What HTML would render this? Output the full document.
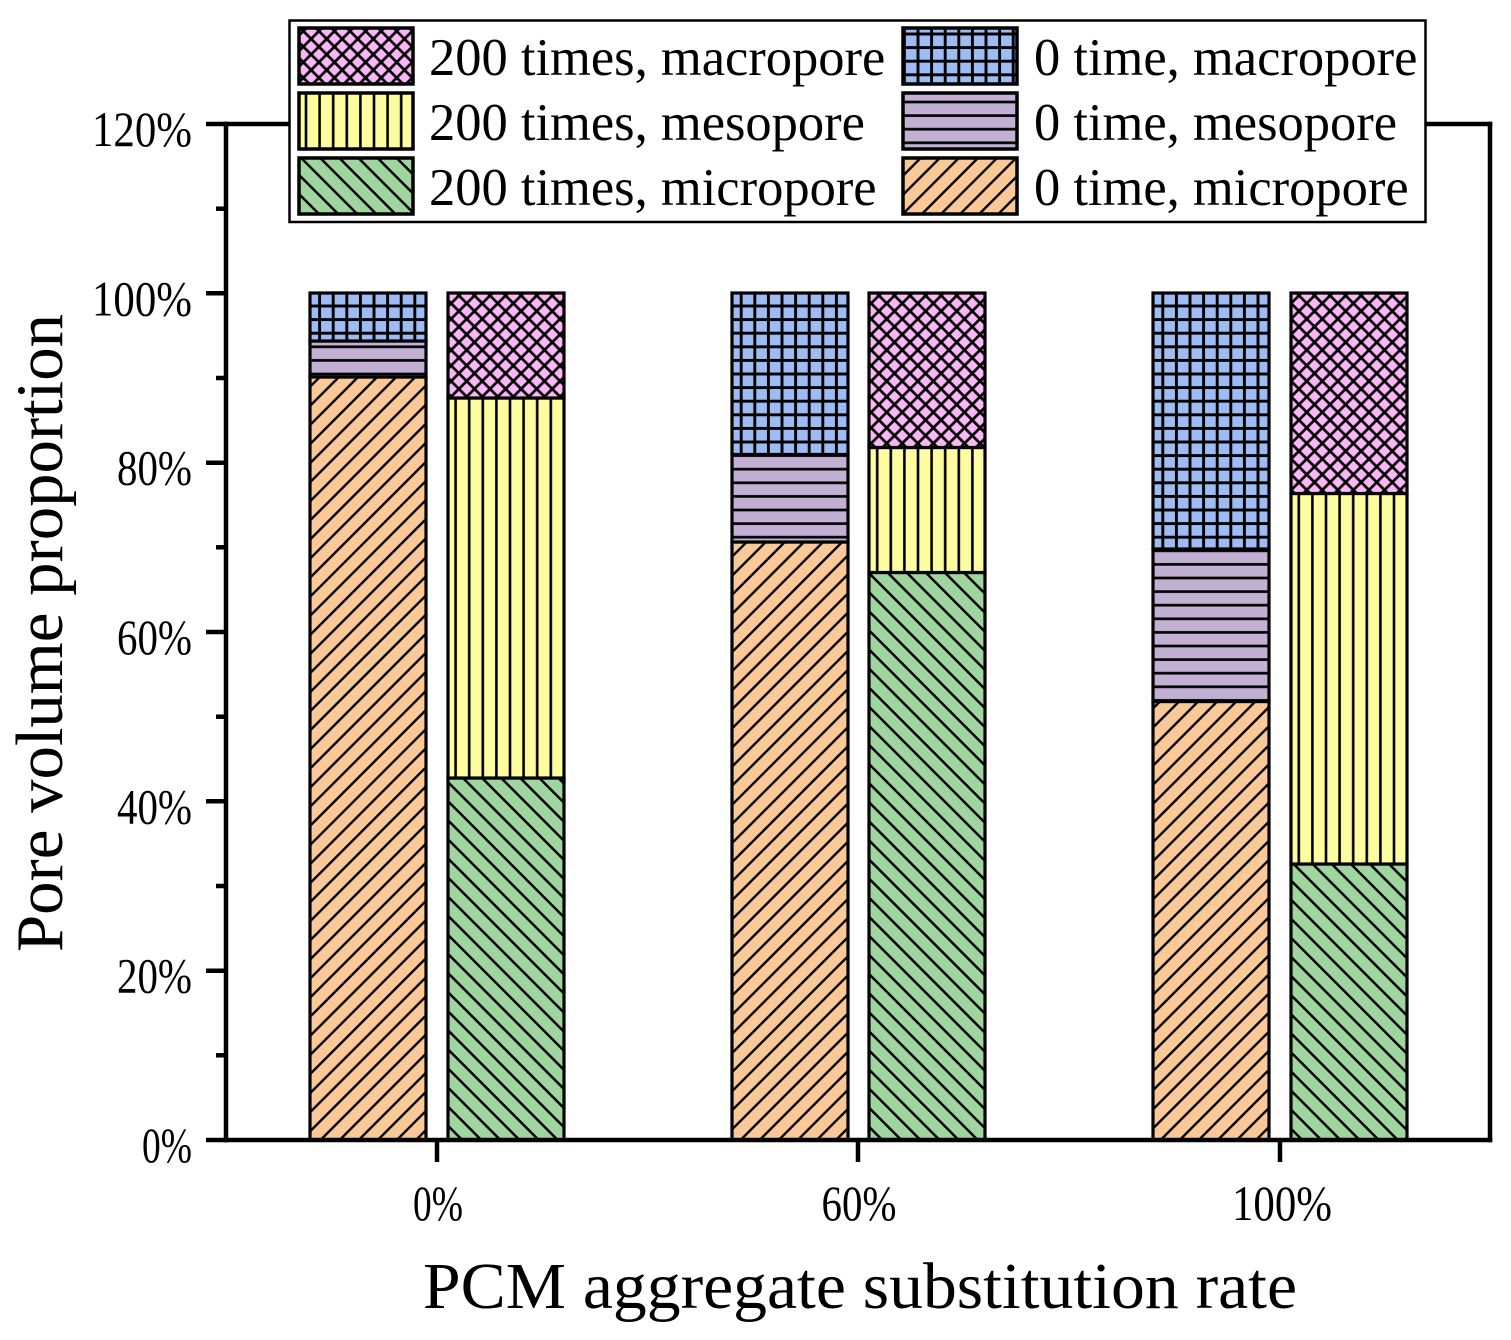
<!DOCTYPE html>
<html>
<head>
<meta charset="utf-8">
<style>
  html, body { margin: 0; padding: 0; background: #ffffff; }
  svg { display: block; }
  text { font-family: "Liberation Serif", "Times New Roman", serif; fill: #000; }
</style>
</head>
<body>
<svg width="1511" height="1340" viewBox="0 0 1511 1340" xmlns="http://www.w3.org/2000/svg">
  <defs>
    <pattern id="pOr" width="13.5" height="13.5" patternUnits="userSpaceOnUse" patternTransform="rotate(45)">
      <rect width="13.5" height="13.5" fill="#FBC997"/>
      <line x1="6.75" y1="-1" x2="6.75" y2="14.5" stroke="#000" stroke-width="2.4"/>
    </pattern>
    <pattern id="pGr" width="13.5" height="13.5" patternUnits="userSpaceOnUse" patternTransform="rotate(-45)">
      <rect width="13.5" height="13.5" fill="#9ED69E"/>
      <line x1="6.75" y1="-1" x2="6.75" y2="14.5" stroke="#000" stroke-width="2.5"/>
    </pattern>
    <pattern id="pLa" width="13.6" height="13.6" patternUnits="userSpaceOnUse">
      <rect width="13.6" height="13.6" fill="#C2B0D4"/>
      <line x1="-1" y1="6.8" x2="14.6" y2="6.8" stroke="#000" stroke-width="2.6"/>
    </pattern>
    <pattern id="pYe" width="13.6" height="13.6" patternUnits="userSpaceOnUse">
      <rect width="13.6" height="13.6" fill="#FEFEA0"/>
      <line x1="6.8" y1="-1" x2="6.8" y2="14.6" stroke="#000" stroke-width="2.6"/>
    </pattern>
    <pattern id="pBl" width="13.6" height="13.6" patternUnits="userSpaceOnUse">
      <rect width="13.6" height="13.6" fill="#9DBCF4"/>
      <line x1="6.8" y1="-1" x2="6.8" y2="14.6" stroke="#000" stroke-width="2.9"/>
      <line x1="-1" y1="6.8" x2="14.6" y2="6.8" stroke="#000" stroke-width="2.9"/>
    </pattern>
    <pattern id="pPi" width="11" height="11" patternUnits="userSpaceOnUse" patternTransform="rotate(45)">
      <rect width="11" height="11" fill="#FAB6F6"/>
      <line x1="5.5" y1="-1" x2="5.5" y2="12" stroke="#000" stroke-width="2.7"/>
      <line x1="-1" y1="5.5" x2="12" y2="5.5" stroke="#000" stroke-width="2.7"/>
    </pattern>
  </defs>

  <!-- Bars -->
  <g stroke="#000" stroke-width="3.2">
    <rect x="310" y="377" width="116" height="763" fill="url(#pOr)"/>
    <rect x="310" y="341" width="116" height="36" fill="url(#pLa)"/>
    <rect x="310" y="293" width="116" height="48" fill="url(#pBl)"/>

    <rect x="448" y="778" width="116" height="362" fill="url(#pGr)"/>
    <rect x="448" y="398" width="116" height="380" fill="url(#pYe)"/>
    <rect x="448" y="293" width="116" height="105" fill="url(#pPi)"/>

    <rect x="732" y="542" width="116" height="598" fill="url(#pOr)"/>
    <rect x="732" y="454.5" width="116" height="87.5" fill="url(#pLa)"/>
    <rect x="732" y="293" width="116" height="161.5" fill="url(#pBl)"/>

    <rect x="869" y="572.5" width="116" height="567.5" fill="url(#pGr)"/>
    <rect x="869" y="447.5" width="116" height="125" fill="url(#pYe)"/>
    <rect x="869" y="293" width="116" height="154.5" fill="url(#pPi)"/>

    <rect x="1153" y="701.5" width="116" height="438.5" fill="url(#pOr)"/>
    <rect x="1153" y="549" width="116" height="152.5" fill="url(#pLa)"/>
    <rect x="1153" y="293" width="116" height="256" fill="url(#pBl)"/>

    <rect x="1291" y="864" width="116" height="276" fill="url(#pGr)"/>
    <rect x="1291" y="493.5" width="116" height="370.5" fill="url(#pYe)"/>
    <rect x="1291" y="293" width="116" height="200.5" fill="url(#pPi)"/>
  </g>

  <!-- Axes frame -->
  <g stroke="#000" stroke-width="4.5" fill="none" stroke-linecap="square">
    <line x1="226" y1="124" x2="1490" y2="124"/>
    <line x1="1490" y1="124" x2="1490" y2="1140"/>
    <line x1="226" y1="124" x2="226" y2="1140"/>
    <line x1="226" y1="1140" x2="1490" y2="1140"/>
  </g>

  <!-- Y ticks -->
  <g stroke="#000" stroke-width="4.5">
    <line x1="206" y1="1140" x2="226" y2="1140"/>
    <line x1="206" y1="970.7" x2="226" y2="970.7"/>
    <line x1="206" y1="801.3" x2="226" y2="801.3"/>
    <line x1="206" y1="632" x2="226" y2="632"/>
    <line x1="206" y1="462.7" x2="226" y2="462.7"/>
    <line x1="206" y1="293.3" x2="226" y2="293.3"/>
    <line x1="206" y1="124" x2="226" y2="124"/>

    <line x1="216" y1="1055.3" x2="226" y2="1055.3"/>
    <line x1="216" y1="886" x2="226" y2="886"/>
    <line x1="216" y1="716.7" x2="226" y2="716.7"/>
    <line x1="216" y1="547.3" x2="226" y2="547.3"/>
    <line x1="216" y1="378" x2="226" y2="378"/>
    <line x1="216" y1="208.7" x2="226" y2="208.7"/>
  </g>

  <!-- X ticks -->
  <g stroke="#000" stroke-width="4.5">
    <line x1="437" y1="1140" x2="437" y2="1162"/>
    <line x1="858" y1="1140" x2="858" y2="1162"/>
    <line x1="1280" y1="1140" x2="1280" y2="1162"/>
  </g>

  <!-- Y tick labels -->
  <g font-size="50" text-anchor="end">
    <text x="192" y="1162" textLength="50" lengthAdjust="spacingAndGlyphs">0%</text>
    <text x="192" y="992.7" textLength="75" lengthAdjust="spacingAndGlyphs">20%</text>
    <text x="192" y="823.3" textLength="75" lengthAdjust="spacingAndGlyphs">40%</text>
    <text x="192" y="654" textLength="75" lengthAdjust="spacingAndGlyphs">60%</text>
    <text x="192" y="484.7" textLength="75" lengthAdjust="spacingAndGlyphs">80%</text>
    <text x="192" y="315.3" textLength="100" lengthAdjust="spacingAndGlyphs">100%</text>
    <text x="192" y="146" textLength="100" lengthAdjust="spacingAndGlyphs">120%</text>
  </g>

  <!-- X tick labels -->
  <g font-size="50" text-anchor="middle">
    <text x="438" y="1220" textLength="50" lengthAdjust="spacingAndGlyphs">0%</text>
    <text x="859" y="1220" textLength="75" lengthAdjust="spacingAndGlyphs">60%</text>
    <text x="1282" y="1220" textLength="100" lengthAdjust="spacingAndGlyphs">100%</text>
  </g>

  <!-- Axis titles -->
  <text x="860" y="1308" font-size="66" text-anchor="middle" textLength="874" lengthAdjust="spacingAndGlyphs">PCM aggregate substitution rate</text>
  <text transform="translate(62,633) rotate(-90)" font-size="67" text-anchor="middle" textLength="638" lengthAdjust="spacingAndGlyphs">Pore volume proportion</text>

  <!-- Legend -->
  <rect x="289.5" y="20.5" width="1136" height="201.5" fill="#fff" stroke="#000" stroke-width="2.5"/>
  <g stroke="#000" stroke-width="3.5">
    <rect x="299" y="28" width="114" height="56" fill="url(#pPi)"/>
    <rect x="299" y="93" width="114" height="56" fill="url(#pYe)"/>
    <rect x="299" y="158" width="114" height="56" fill="url(#pGr)"/>
    <rect x="903" y="28" width="114" height="56" fill="url(#pBl)"/>
    <rect x="903" y="93" width="114" height="56" fill="url(#pLa)"/>
    <rect x="903" y="158" width="114" height="56" fill="url(#pOr)"/>
  </g>
  <g font-size="52.5">
    <text x="429" y="75">200 times, macropore</text>
    <text x="429" y="140">200 times, mesopore</text>
    <text x="429" y="205">200 times, micropore</text>
    <text x="1034" y="75">0 time, macropore</text>
    <text x="1034" y="140">0 time, mesopore</text>
    <text x="1034" y="205">0 time, micropore</text>
  </g>
</svg>
</body>
</html>
